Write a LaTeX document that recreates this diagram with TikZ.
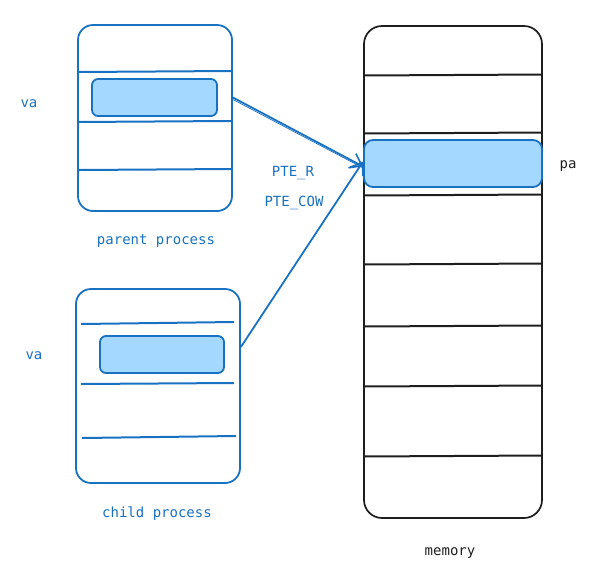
\documentclass[tikz,border=0pt]{standalone}
\usepackage{fontspec}
\setmonofont{DejaVu Sans Mono}
\usetikzlibrary{arrows.meta}
\definecolor{eblue}{HTML}{1971C2}
\definecolor{efill}{HTML}{A5D8FF}
\definecolor{eblack}{HTML}{1E1E1E}
\begin{document}
\begin{tikzpicture}[x=1pt,y=-1pt,
  proc/.style={draw=eblue,line width=1.8pt,rounded corners=15pt,inner sep=0pt},
  cell/.style={draw=eblue,fill=efill,line width=1.8pt,rounded corners=6pt,inner sep=0pt},
  mem/.style={draw=eblack,line width=1.7pt,rounded corners=18pt,inner sep=0pt},
  sep/.style={line width=2pt},
  lbl/.style={font=\ttfamily\fontsize{14}{16}\selectfont,text=eblue,inner sep=0pt},
  blbl/.style={lbl,text=eblack},
  link/.style={draw=eblue,line width=1.8pt,-{Straight Barb[length=11pt,width=16pt,line width=1.6pt]}}]
\useasboundingbox (0,0) rectangle (606,582);
% parent process
\node[proc,minimum width=154pt,minimum height=186pt] (par) at (155,118) {};
\draw[eblue,sep] (78,72) -- (232,71);
\draw[eblue,sep] (77,122) -- (231,121);
\draw[eblue,sep] (79,170) -- (232,169);
\node[cell,minimum width=125pt,minimum height=37pt] (pcell) at (154.5,97.5) {};
% child process
\node[proc,minimum width=164pt,minimum height=194pt] (chi) at (158,386) {};
\draw[eblue,sep] (81,324) -- (234,322);
\draw[eblue,sep] (81,384) -- (234,383);
\draw[eblue,sep] (82,438) -- (236,436);
\node[cell,minimum width=124pt,minimum height=37pt] (ccell) at (162,354.5) {};
% memory
\node[mem,minimum width=178pt,minimum height=492pt] (mem) at (453,272) {};
\foreach \y in {75,133,195,264,326,386,456}
  \draw[eblack,sep] (364,\y+0.5) -- (542,\y-0.5);
\node[cell,rounded corners=9pt,minimum width=178pt,minimum height=47pt] (hl) at (453,163.5) {};
% labels
\node[lbl] (va1) at (29,103.5) {va};
\node[lbl] (va2) at (34,355.5) {va};
\node[blbl] (pa) at (568,166.5) {pa};
\node[lbl] (pter) at (293,173.5) {PTE\_R};
\node[lbl] (ptecow) at (294,202.5) {PTE\_COW};
\node[lbl] (plab) at (156,241.5) {parent process};
\node[lbl] (clab) at (157,513.5) {child process};
\node[blbl] (mlab) at (450,553.5) {memory};
% connectors
\coordinate (ps) at (par.east |- pcell.center);
\coordinate (cs) at (chi.east |- 0,347);
\draw[link] (ps) -- ([yshift=-3pt]hl.west);
\draw[eblue,line width=0.7pt] ([yshift=-2pt]ps) -- ([yshift=-4.5pt]hl.west);
\draw[link] (cs) -- ([yshift=2pt]hl.west);
\end{tikzpicture}
\end{document}
